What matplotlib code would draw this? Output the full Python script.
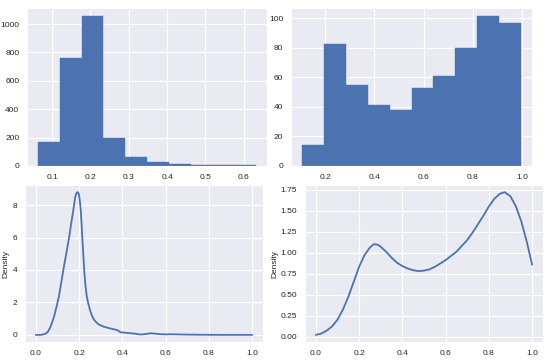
import matplotlib
matplotlib.use("Agg")
import matplotlib.pyplot as plt
from matplotlib.ticker import FormatStrFormatter
import seaborn as sns

sns.set_style("darkgrid")
plt.rcParams.update({
    "font.family": ["Liberation Sans", "DejaVu Sans"],
    "font.size": 6,
    "xtick.labelsize": 6, "ytick.labelsize": 6,
    "axes.labelsize": 6,
    "grid.linewidth": 0.8,
})

BLUE = "#4C72B0"

# histogram 1 (left), 10 bins
hist1_edges = [0.063, 0.120, 0.177, 0.234, 0.291, 0.348, 0.405, 0.461, 0.518, 0.575, 0.632]
hist1_counts = [171, 762, 1060, 198, 64, 29, 12, 5, 9, 5]

# histogram 2 (right), 10 bins
hist2_edges = [0.105, 0.194, 0.284, 0.373, 0.462, 0.551, 0.640, 0.729, 0.819, 0.908, 0.997]
hist2_counts = [14, 83, 55, 41, 38, 53, 61, 80, 102, 97]

# density curve 1
kde1_x = [0.0, 0.02, 0.032, 0.045, 0.056, 0.068, 0.083, 0.095, 0.107, 0.119, 0.131,
          0.143, 0.155, 0.163, 0.171, 0.177, 0.182, 0.187, 0.192, 0.196, 0.2, 0.204,
          0.208, 0.212, 0.216, 0.22, 0.224, 0.229, 0.235, 0.243, 0.251, 0.259, 0.267,
          0.279, 0.291, 0.315, 0.346, 0.377, 0.392, 0.423, 0.454, 0.485, 0.508, 0.531,
          0.555, 0.577, 0.6, 0.623, 0.685, 0.75, 0.85, 1.0]
kde1_y = [0.0, 0.0, 0.02, 0.08, 0.2, 0.5, 1.07, 1.7, 2.4, 3.35, 4.3,
          5.2, 6.1, 6.85, 7.5, 8.05, 8.5, 8.72, 8.8, 8.78, 8.6, 8.2,
          7.6, 6.7, 5.7, 4.8, 3.9, 3.1, 2.4, 1.9, 1.5, 1.2, 0.97,
          0.78, 0.64, 0.5, 0.39, 0.29, 0.16, 0.12, 0.08, 0.02, 0.05, 0.1,
          0.07, 0.04, 0.03, 0.04, 0.02, 0.01, 0.0, 0.0]

# density curve 2
kde2_x = [0.0, 0.025, 0.05, 0.075, 0.1, 0.125, 0.15, 0.175, 0.2, 0.225, 0.25, 0.268,
          0.285, 0.3, 0.325, 0.35, 0.375, 0.4, 0.425, 0.45, 0.475, 0.5, 0.525, 0.55,
          0.575, 0.6, 0.625, 0.65, 0.675, 0.7, 0.725, 0.75, 0.775, 0.8, 0.825, 0.85,
          0.873, 0.9, 0.925, 0.95, 0.975, 1.0]
kde2_y = [0.02, 0.035, 0.07, 0.12, 0.2, 0.32, 0.47, 0.65, 0.83, 0.97, 1.06, 1.1,
          1.095, 1.07, 1.01, 0.94, 0.88, 0.84, 0.81, 0.79, 0.78, 0.785, 0.8, 0.83,
          0.87, 0.91, 0.96, 1.01, 1.08, 1.15, 1.24, 1.34, 1.44, 1.55, 1.64, 1.7,
          1.72, 1.67, 1.55, 1.37, 1.13, 0.855]

fig = plt.figure(figsize=(5.5, 3.61), dpi=100)
ax1 = fig.add_axes([0.0491, 0.5402, 0.4364, 0.4377])
ax2 = fig.add_axes([0.5291, 0.5402, 0.4382, 0.4377])
ax3 = fig.add_axes([0.0455, 0.0526, 0.4327, 0.4349])
ax4 = fig.add_axes([0.5545, 0.0526, 0.4327, 0.4349])

ax1.hist(hist1_edges[:-1], bins=hist1_edges, weights=hist1_counts, color=BLUE,
         edgecolor=BLUE, linewidth=0.3)
ax1.set_xticks([0.1, 0.2, 0.3, 0.4, 0.5, 0.6])
ax1.set_yticks([0, 200, 400, 600, 800, 1000])

ax2.hist(hist2_edges[:-1], bins=hist2_edges, weights=hist2_counts, color=BLUE,
         edgecolor=BLUE, linewidth=0.3)
ax2.set_xticks([0.2, 0.4, 0.6, 0.8, 1.0])
ax2.set_yticks([0, 20, 40, 60, 80, 100])

ax3.plot(kde1_x, kde1_y, color=BLUE, lw=1.3)
ax3.set_ylabel("Density")
ax3.set_xticks([0.0, 0.2, 0.4, 0.6, 0.8, 1.0])
ax3.set_yticks([0, 2, 4, 6, 8])

ax4.plot(kde2_x, kde2_y, color=BLUE, lw=1.3)
ax4.set_ylabel("Density")
ax4.set_xticks([0.0, 0.2, 0.4, 0.6, 0.8, 1.0])
ax4.set_yticks([0.0, 0.25, 0.5, 0.75, 1.0, 1.25, 1.5, 1.75])
ax4.yaxis.set_major_formatter(FormatStrFormatter("%.2f"))

for ax in (ax1, ax2, ax3, ax4):
    ax.tick_params(pad=2)
    ax.yaxis.labelpad = 2

fig.savefig("out.png", dpi=100)
